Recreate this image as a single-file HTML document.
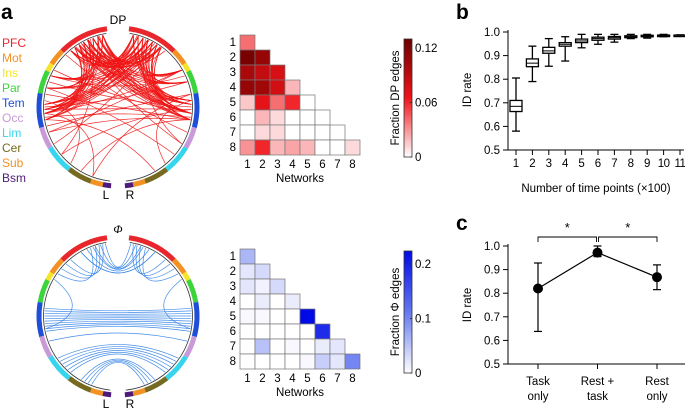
<!DOCTYPE html>
<html><head><meta charset="utf-8"><style>
body{margin:0;background:#fff;}
svg{display:block;font-family:"Liberation Sans",sans-serif;}
</style></head><body>
<svg id="fig" width="685" height="411" viewBox="0 0 685 411">
<g id="pa"></g>
<g id="pb"></g>
<g id="pc"></g>
</svg>
<script>
// ---------- data ----------
const regionNames=["PFC","Mot","Ins","Par","Tem","Occ","Lim","Cer","Sub","Bsm"];
const regionColors=["#e8262b","#f39223","#f5e52a","#3bd43c","#1f4fd6","#c99ad8","#35d5ee","#756a1f","#f39223","#4d1c7a"];
const regionStart=[8,45,57,63,80,105,121,142,160,169];
const regionEnd=[45,57,63,80,105,121,142,160,169,175];
const dpMatrix=[[0.04],[0.125,0.11],[0.10,0.088,0.078],[0.11,0.105,0.08,0.02],[0.015,0.07,0.04,0.06,0],[0,0.02,0.01,0,0,0],[0,0.01,0.01,0,0,0,0],[0.03,0.06,0.02,0.025,0.02,0,0,0.01]];
const phiMatrix=[[0.06],[0.02,0.03],[0.02,0.01,0.03],[0,0.015,0,0.015],[0.005,0.005,0,0,0.225],[0,0,0,0,0,0.19],[0,0.05,0,0.005,0,0.015,0.02],[0,0,0,0,0.005,0.04,0.02,0.1]];
const boxCats=[1,2,3,4,5,6,7,8,9,10,11];
const boxMed=[0.685,0.868,0.92,0.948,0.962,0.972,0.976,0.98,0.983,0.985,0.986];
const boxQ1=[0.663,0.853,0.91,0.94,0.955,0.965,0.97,0.976,0.98,0.983,0.985];
const boxQ3=[0.71,0.886,0.935,0.955,0.97,0.978,0.981,0.984,0.986,0.987,0.987];
const boxLo=[0.58,0.79,0.855,0.877,0.933,0.948,0.957,0.972,0.974,0.98,0.985];
const boxHi=[0.805,0.94,0.972,0.98,0.99,0.99,0.99,0.99,0.99,0.99,0.988];
const cCats=["Task|only","Rest +|task","Rest|only"];
const cMean=[0.82,0.972,0.868];
const cLo=[0.638,0.955,0.815];
const cHi=[0.928,1.0,0.92];
const yTicks=[0.5,0.6,0.7,0.8,0.9,1.0];
// chord angle pairs (deg, clockwise from top; negative = left)
const dpFanSrc=[-12,-16,-20,-24,-28,-32,-36,12,16,20,24,28,32,36];
const dpFanDst=[-88,-95,-100,60,70,85,95,-65,-75,-92,88,95,100,-40];
const dpCross=[[-40,30],[-30,40],[-20,25],[-25,20],[-15,35],[-35,15],[-70,90],[-90,70],[-60,95],[-95,60],[-85,-140],[85,140],[-100,150],[-150,100],[-120,35],[120,-30],[-160,80],[-130,92],[-75,130],[-110,60],[-92,92],[-98,98],[-65,65],[-80,100],[100,-110],[-45,110],[-160,-95],[-22,-130],[22,120],[-105,80]];
const phiHoriz=[-20,-25,-30,-84,-86,-88,-90,-92,-94,-96,-98,-100,-102,-110,-125,-128,-131,-134,-137,-140,-150,-153,-156,-159];
const phiIntra=[[-12,-40],[-15,-45],[-18,-50],[-22,-55],[12,40],[15,45],[18,50],[22,55],[-10,10],[-14,14],[-18,18],[-60,-100],[60,100],[-30,30]];

const NS="http://www.w3.org/2000/svg";
function mk(parent,tag,attrs,name,text){const e=document.createElementNS(NS,tag);for(const k in attrs)e.setAttribute(k,attrs[k]);


if(text!==undefined)e.textContent=text;parent.appendChild(e);return e;}
const pa=document.getElementById('pa'),pb=document.getElementById('pb'),pc=document.getElementById('pc');

// ---------- panel a ----------
mk(pa,'text',{x:1,y:19,'font-size':21,'font-weight':'bold'},'panel-label-a','a');
regionNames.forEach((n,i)=>mk(pa,'text',{x:2,y:47+i*15,'font-size':12,fill:regionColors[i]},'legend-'+n.toLowerCase(),n));
function pt(cx,cy,r,a){const t=a*Math.PI/180;return[cx+r*Math.sin(t),cy-r*Math.cos(t)];}
function arc(g,cx,cy,r,a0,a1,col,w,name){const p0=pt(cx,cy,r,a0),p1=pt(cx,cy,r,a1);const la=Math.abs(a1-a0)>180?1:0;const sw=a1>a0?1:0;
mk(g,'path',{d:`M${p0[0]},${p0[1]} A${r},${r} 0 ${la} ${sw} ${p1[0]},${p1[1]}`,fill:'none',stroke:col,'stroke-width':w},name);}
function chord(g,cx,cy,r,a,b,col,name){const p=pt(cx,cy,r,a),q=pt(cx,cy,r,b);const mx=(p[0]+q[0])/2,my=(p[1]+q[1])/2;const k=0.35;
const c=[cx+(mx-cx)*k,cy+(my-cy)*k];mk(g,'path',{d:`M${p[0]},${p[1]} Q${c[0]},${c[1]} ${q[0]},${q[1]}`,fill:'none',stroke:col,'stroke-width':0.7,opacity:0.9},name);}
function circ(cx,cy,col,title,ttl,pairs,id){
  const g=mk(pa,'g',{},'chord-diagram-'+id);
  for(let s=-1;s<=1;s+=2){regionNames.forEach((n,i)=>arc(g,cx,cy,79,s*regionStart[i],s*regionEnd[i],regionColors[i],5,'ring-'+n.toLowerCase()));
   arc(g,cx,cy,74.5,s*9,s*174,'#333',0.8,'inner-ring');}
  pairs.forEach((p,i)=>chord(g,cx,cy,73.5,p[0],p[1],col,'chord'));
  mk(g,'text',{x:cx,y:cy-83,'font-size':12,'text-anchor':'middle','font-style':ttl?'italic':'normal','font-family':ttl?'Liberation Serif':'Liberation Sans'},'circle-title-'+id,title);
  mk(g,'text',{x:cx-12,y:cy+92,'font-size':12,'text-anchor':'middle'},'label-left','L');
  mk(g,'text',{x:cx+12,y:cy+92,'font-size':12,'text-anchor':'middle'},'label-right','R');
}
const dpPairs=[];dpFanSrc.forEach((s,i)=>{dpFanDst.forEach((d,j)=>{if((i+j)%2==0)dpPairs.push([s,d]);});});dpCross.forEach(p=>dpPairs.push(p));
dpFanSrc.slice(0,7).forEach((s,i)=>dpFanSrc.slice(7).forEach((d,j)=>{if((i+j)%3==0)dpPairs.push([s,d]);}));
circ(118,107,'#f01414','DP',false,dpPairs,'dp');
const phiPairs=[];phiHoriz.forEach(a=>phiPairs.push([a,-a]));phiIntra.forEach(p=>phiPairs.push(p));
circ(118,316,'#2f7fe6','Φ',true,phiPairs,'phi');

function heat(top,mat,vmax,ticks,rgbA,rgbB,label,cbTop,cbBot,id){
  const g=mk(pa,'g',{},'heatmap-'+id);const x0=240,c=15;
  function colr(v){const t=Math.min(v/vmax,1);let r,gg,b;if(t<0.5){const u=t/0.5;r=255+(rgbA[0]-255)*u;gg=255+(rgbA[1]-255)*u;b=255+(rgbA[2]-255)*u;}else{const u=(t-0.5)/0.5;r=rgbA[0]+(rgbB[0]-rgbA[0])*u;gg=rgbA[1]+(rgbB[1]-rgbA[1])*u;b=rgbA[2]+(rgbB[2]-rgbA[2])*u;}return`rgb(${r|0},${gg|0},${b|0})`;}
  mat.forEach((row,i)=>{row.forEach((v,j)=>mk(g,'rect',{x:x0+j*c,y:top+i*c,width:c,height:c,fill:colr(v),stroke:'#777','stroke-width':0.7},'cell-'+(i+1)+'-'+(j+1)));
   mk(g,'text',{x:x0-4,y:top+i*c+11,'font-size':11.5,'text-anchor':'end'},'row-label',String(i+1));
   mk(g,'text',{x:x0+i*c+7.5,y:top+8*c+13,'font-size':11.5,'text-anchor':'middle'},'col-label',String(i+1));});
  mk(g,'text',{x:x0+60,y:top+8*c+27,'font-size':11.5,'text-anchor':'middle'},'x-axis-title','Networks');
  const gid='grad'+id;const defs=mk(g,'defs',{},'defs');const lg=mk(defs,'linearGradient',{id:gid,x1:0,y1:1,x2:0,y2:0},'gradient');
  [0,0.5,1].forEach(o=>mk(lg,'stop',{offset:o,'stop-color':o==0?'#fff':o==0.5?`rgb(${rgbA})`:`rgb(${rgbB})`},'stop'));
  mk(g,'rect',{x:404,y:cbTop,width:8,height:cbBot-cbTop,fill:`url(#${gid})`,stroke:'#333','stroke-width':0.8},'colorbar');
  ticks.forEach(t=>{const y=cbBot-(t/vmax)*(cbBot-cbTop);mk(g,'line',{x1:410,x2:412,y1:y,y2:y,stroke:'#333'},'colorbar-tick');mk(g,'text',{x:415,y:y+4,'font-size':11.5},'colorbar-label',String(t));});
  const my=(cbTop+cbBot)/2;mk(g,'text',{x:0,y:0,'font-size':11.5,'text-anchor':'middle',transform:`translate(399,${my}) rotate(-90)`},'colorbar-title',label);
}
heat(35,dpMatrix,0.13,[0,0.06,0.12],[240,20,25],[110,0,0],'Fraction DP edges',39,157,'dp');
heat(249,phiMatrix,0.224,[0,0.1,0.2],[100,120,240],[0,10,230],'Fraction Φ edges',251,373,'phi');

// ---------- panel b ----------
mk(pb,'text',{x:456,y:19,'font-size':21,'font-weight':'bold'},'panel-label-b','b');
const bx=c=>516+(c-1)*16.4,by=v=>150-(v-0.5)/0.5*118;
mk(pb,'line',{x1:508,x2:508,y1:30,y2:150,stroke:'#000'},'y-axis');
mk(pb,'line',{x1:508,x2:684,y1:150,y2:150,stroke:'#000'},'x-axis');
yTicks.forEach(t=>{mk(pb,'line',{x1:503,x2:508,y1:by(t),y2:by(t),stroke:'#000'},'y-tick');mk(pb,'text',{x:500,y:by(t)+4,'font-size':11.5,'text-anchor':'end'},'y-tick-label',t.toFixed(1));});
boxCats.forEach((c,i)=>{const x=bx(c);mk(pb,'line',{x1:x,x2:x,y1:150,y2:155,stroke:'#000'},'x-tick');
 mk(pb,'text',{x:x,y:167,'font-size':11.5,'text-anchor':'middle','letter-spacing':c>9?'-0.5':'0'},'x-tick-label',String(c));
 mk(pb,'line',{x1:x,x2:x,y1:by(boxLo[i]),y2:by(boxHi[i]),stroke:'#000','stroke-width':1.3},'whisker');
 [boxLo[i],boxHi[i]].forEach(v=>mk(pb,'line',{x1:x-4,x2:x+4,y1:by(v),y2:by(v),stroke:'#000','stroke-width':1.3},'whisker-cap'));
 mk(pb,'rect',{x:x-6,y:by(boxQ3[i]),width:12,height:Math.max(by(boxQ1[i])-by(boxQ3[i]),1.5),fill:'#fff',stroke:'#000','stroke-width':1.3},'box-'+c);
 mk(pb,'line',{x1:x-6,x2:x+6,y1:by(boxMed[i]),y2:by(boxMed[i]),stroke:'#000','stroke-width':1},'median');});
mk(pb,'text',{x:0,y:0,'font-size':11.5,'text-anchor':'middle',transform:'translate(471,90) rotate(-90)'},'y-axis-title','ID rate');
mk(pb,'text',{x:596,y:192,'font-size':11.5,'text-anchor':'middle'},'x-axis-title','Number of time points (×100)');

// ---------- panel c ----------
mk(pc,'text',{x:456,y:230,'font-size':21,'font-weight':'bold'},'panel-label-c','c');
const cx_=i=>538+i*59.5,cy_=v=>364-(v-0.5)/0.5*118;
mk(pc,'line',{x1:508,x2:508,y1:244,y2:364,stroke:'#000'},'y-axis');
mk(pc,'line',{x1:508,x2:685,y1:364,y2:364,stroke:'#000'},'x-axis');
yTicks.forEach(t=>{mk(pc,'line',{x1:503,x2:508,y1:cy_(t),y2:cy_(t),stroke:'#000'},'y-tick');mk(pc,'text',{x:500,y:cy_(t)+4,'font-size':11.5,'text-anchor':'end'},'y-tick-label',t.toFixed(1));});
mk(pc,'text',{x:0,y:0,'font-size':11.5,'text-anchor':'middle',transform:'translate(471,305) rotate(-90)'},'y-axis-title','ID rate');
mk(pc,'polyline',{points:cMean.map((v,i)=>cx_(i)+','+cy_(v)).join(' '),fill:'none',stroke:'#000','stroke-width':1.2},'mean-line');
cCats.forEach((c,i)=>{const x=cx_(i);mk(pc,'line',{x1:x,x2:x,y1:364,y2:369,stroke:'#000'},'x-tick');
 const parts=c.split('|');parts.forEach((p,k)=>mk(pc,'text',{x:x,y:385+k*15,'font-size':11.5,'text-anchor':'middle'},'x-tick-label',p));
 mk(pc,'line',{x1:x,x2:x,y1:cy_(cLo[i]),y2:cy_(cHi[i]),stroke:'#000','stroke-width':1.2},'error-bar');
 [cLo[i],cHi[i]].forEach(v=>mk(pc,'line',{x1:x-4,x2:x+4,y1:cy_(v),y2:cy_(v),stroke:'#000','stroke-width':1.2},'error-cap'));
 mk(pc,'circle',{cx:x,cy:cy_(cMean[i]),r:5,fill:'#000'},'point-'+i);});
[[0,1],[1,2]].forEach(([a,b],k)=>{const x1=cx_(a)+(k?1:0),x2=cx_(b)-(k?0:1);
 mk(pc,'path',{d:`M${x1},242 V237 H${x2} V242`,fill:'none',stroke:'#000','stroke-width':0.9},'significance-bracket');
 mk(pc,'text',{x:(x1+x2)/2,y:232,'font-size':13,'text-anchor':'middle'},'significance-star','*');});
</script>
</body></html>
